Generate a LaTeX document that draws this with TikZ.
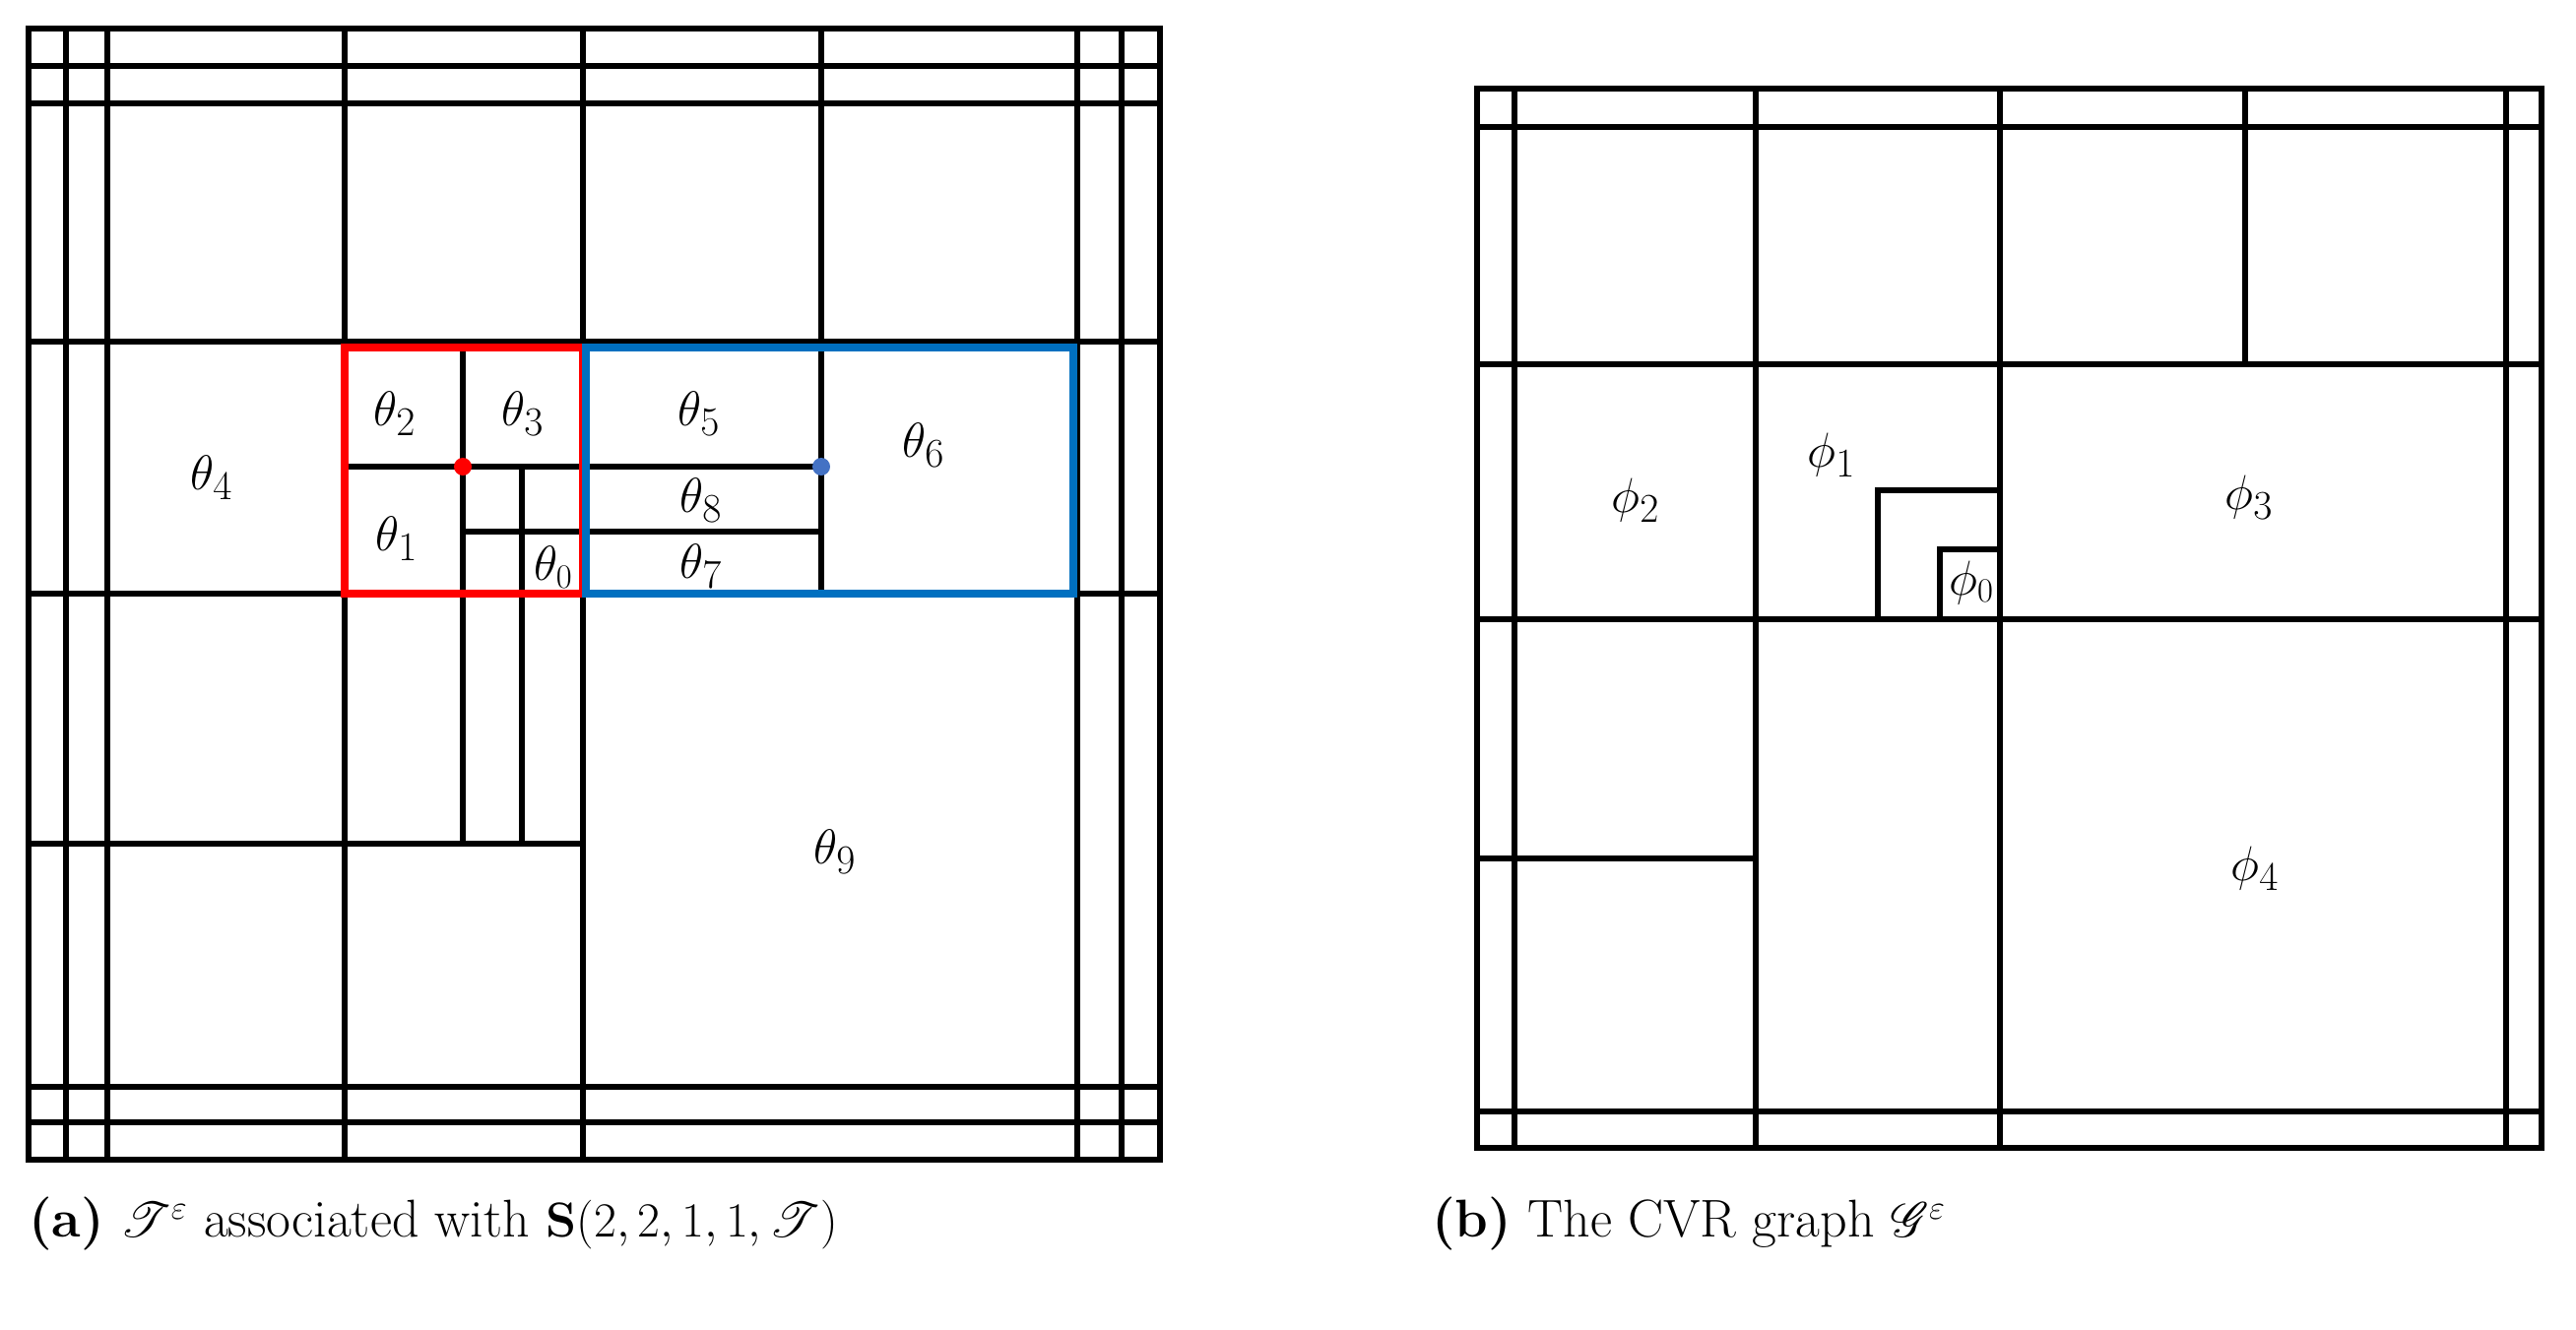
\documentclass[tikz,border=0pt]{standalone}
\usepackage{amsmath,mathrsfs}
\definecolor{boxblue}{RGB}{0,112,192}
\definecolor{dotblue}{RGB}{68,114,196}
\begin{document}
\begin{tikzpicture}[x=0.5pt,y=-0.5pt,
  ln/.style={line width=2.6pt,line cap=rect},
  lab/.style={font=\fontsize{30}{34}\selectfont},
  captext/.style={font=\fontsize{27}{32}\selectfont,anchor=west}]
\useasboundingbox (0,0) rectangle (2616,1350);
% ---- panel (a)
\foreach \x in {29,67,109,350,592,1094,1139,1178}
  \draw[ln] (\x,29) -- (\x,1178);
\foreach \y in {29,67,105,347,603,1104,1140,1178}
  \draw[ln] (29,\y) -- (1178,\y);
\draw[ln] (834,29) -- (834,603);
\draw[ln] (29,857) -- (592,857);
\draw[ln] (470,347) -- (470,857);
\draw[ln] (530,474) -- (530,857);
\draw[ln] (350,474) -- (834,474);
\draw[ln] (470,540) -- (834,540);
\draw[red,line width=4.2pt] (350,353) rectangle (592,603);
\draw[boxblue,line width=4.2pt] (595,353) rectangle (1090,603);
\fill[red] (470,474) circle (9);
\fill[dotblue] (834,474) circle (9);
\node[lab] (t2) at (401,420) {$\theta_2$};
\node[lab] (t3) at (531,420) {$\theta_3$};
\node[lab] (t4) at (215,485) {$\theta_4$};
\node[lab] (t1) at (403,547) {$\theta_1$};
\node[lab,font=\fontsize{26}{30}\selectfont] (t0) at (562,576) {$\theta_0$};
\node[lab] (t5) at (710,420) {$\theta_5$};
\node[lab] (t6) at (938,452) {$\theta_6$};
\node[lab] (t8) at (712,508) {$\theta_8$};
\node[lab] (t7) at (712,575) {$\theta_7$};
\node[lab] (t9) at (848,865) {$\theta_9$};
% ---- panel (b)
\foreach \x in {1500,1538,1783,2031,2545,2581}
  \draw[ln] (\x,90) -- (\x,1166);
\foreach \y in {90,129,370,629,1129,1166}
  \draw[ln] (1500,\y) -- (2581,\y);
\draw[ln] (2280,90) -- (2280,370);
\draw[ln] (1500,872) -- (1783,872);
\draw[ln] (1907,629) -- (1907,498) -- (2031,498);
\draw[ln] (1970,629) -- (1970,558) -- (2031,558);
\node[lab] (p1) at (1860,462) {$\phi_1$};
\node[lab] (p2) at (1661,508) {$\phi_2$};
\node[lab] (p3) at (2284,505) {$\phi_3$};
\node[lab,font=\fontsize{26}{30}\selectfont] (p0) at (2002,592) {$\phi_0$};
\node[lab] (p4) at (2290,882) {$\phi_4$};
% ---- captions
\node[captext] (ca) at (22,1243) {\textbf{(a)} $\mathscr{T}^{\varepsilon}$ associated with $\mathbf{S}(2,2,1,1,\mathscr{T})$};
\node[captext] (cb) at (1447,1243) {\textbf{(b)} The CVR graph $\mathscr{G}^{\varepsilon}$};
\end{tikzpicture}
\end{document}
